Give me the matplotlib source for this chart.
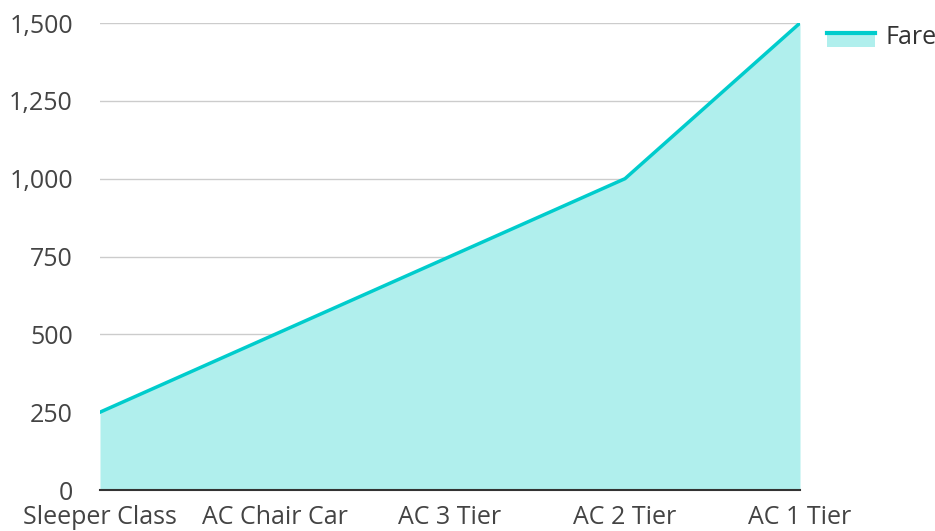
import matplotlib.pyplot as plt
from matplotlib.patches import Rectangle
from matplotlib.lines import Line2D
from matplotlib.ticker import FuncFormatter

classes = ["Sleeper Class", "AC Chair Car", "AC 3 Tier", "AC 2 Tier", "AC 1 Tier"]
fare = [250, 500, 750, 1000, 1500]
yticks = [0, 250, 500, 750, 1000, 1250, 1500]

plt.rcParams['font.family'] = ['Open Sans', 'DejaVu Sans']

W, H = 935, 531
fig = plt.figure(figsize=(W / 100, H / 100), dpi=100)
ax = fig.add_axes([100 / W, 1 - 490 / H, 700 / W, (490 - 23) / H])

x = list(range(len(classes)))
ax.fill_between(x, fare, 0, color="#b0efed", lw=0, zorder=2)
ax.plot(x, fare, color="#00cccc", lw=2.5, zorder=3)

ax.set_xlim(0, len(classes) - 1)
ax.set_ylim(0, 1500)
ax.set_yticks(yticks)
ax.yaxis.set_major_formatter(FuncFormatter(lambda v, p: f"{int(v):,}"))
ax.set_xticks(x)
ax.set_xticklabels(classes)
ax.grid(axis="y", color="#cccccc", lw=1, zorder=1)
for s in ["top", "right", "left"]:
    ax.spines[s].set_visible(False)
ax.spines["bottom"].set_color("#333333")
ax.spines["bottom"].set_linewidth(1.5)
ax.spines["bottom"].set_zorder(4)
ax.tick_params(axis="both", length=0, labelsize=18, colors="#444444")
ax.tick_params(axis="y", pad=19.5)
ax.tick_params(axis="x", pad=11)

# legend drawn by hand: swatch with line on top
fig.add_artist(Rectangle((827 / W, 1 - 47 / H), 48 / W, 15 / H,
                         transform=fig.transFigure, color="#b0efed", lw=0))
fig.add_artist(Line2D([827 / W, 875 / W], [1 - 33 / H, 1 - 33 / H],
                      transform=fig.transFigure, color="#00cccc", lw=3))
fig.text(885 / W, 1 - 37 / H, "Fare", fontsize=18, color="#333333", va="center")

fig.savefig("out.png", dpi=100)
